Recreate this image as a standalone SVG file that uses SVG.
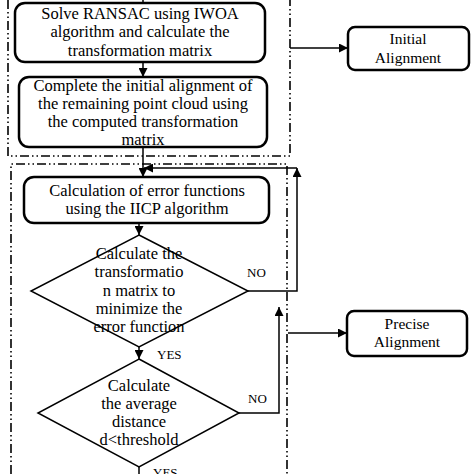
<svg xmlns="http://www.w3.org/2000/svg" width="474" height="474" viewBox="0 0 474 474">
<defs>
<marker id="ah" viewBox="0 0 10 10" refX="10" refY="5" markerWidth="9" markerHeight="9" markerUnits="userSpaceOnUse" orient="auto"><path d="M0,0 L10,5 L0,10 z" fill="#000"/></marker>
<style>
.box{fill:#fff;stroke:#000;stroke-width:2.5}
.dia{fill:#fff;stroke:#000;stroke-width:1.5}
.ln{fill:none;stroke:#000;stroke-width:1.5}
.grp{fill:none;stroke:#000;stroke-width:1.6;stroke-dasharray:9 3 1.5 3 1.5 3}
text{font-family:"Liberation Serif","Times New Roman",serif;font-size:16.5px;fill:#000;text-anchor:middle}
.sm{font-size:13px;text-anchor:start}
.al{font-size:15.5px}
</style>
</defs>
<rect width="474" height="474" fill="#fff"/>
<g id="groups">
<path class="grp" d="M8,0 V156 H290 V0"/>
<path class="grp" d="M11,474 V164 H287 V474"/>
</g>
<g id="connectors">
<line class="ln" x1="143" y1="0" x2="143" y2="4"/>
<line class="ln" x1="143" y1="62" x2="143" y2="77" marker-end="url(#ah)"/>
<line class="ln" x1="143" y1="147" x2="143" y2="177" marker-end="url(#ah)"/>
<line class="ln" x1="139" y1="223" x2="139" y2="235" marker-end="url(#ah)"/>
<path class="ln" d="M248,291 H297 V168" marker-end="url(#ah)"/>
<line class="ln" x1="297" y1="168" x2="144" y2="168" marker-end="url(#ah)"/>
<line class="ln" x1="139" y1="347" x2="139" y2="359" marker-end="url(#ah)"/>
<path class="ln" d="M239,413 H279 V307" marker-end="url(#ah)"/>
<line class="ln" x1="139" y1="467" x2="139" y2="474"/>
<line class="ln" x1="290" y1="48" x2="348" y2="48" marker-end="url(#ah)"/>
<line class="ln" x1="288" y1="333" x2="347" y2="333" marker-end="url(#ah)"/>
<text class="sm" x="247" y="277">NO</text>
<text class="sm" x="248" y="403">NO</text>
<text class="sm" x="157" y="359">YES</text>
<text class="sm" x="153" y="477">YES</text>
</g>
<g id="n1">
<rect class="box" x="15" y="3" width="250" height="59" rx="10"/>
<text x="140" y="19">Solve RANSAC using IWOA</text>
<text x="140" y="37">algorithm and calculate the</text>
<text x="140" y="56">transformation matrix</text>
</g>
<g id="n2">
<rect class="box" x="19" y="77" width="248" height="70" rx="10"/>
<text x="143" y="91">Complete the initial alignment of</text>
<text x="143" y="109">the remaining point cloud using</text>
<text x="143" y="127">the computed transformation</text>
<text x="143" y="145">matrix</text>
</g>
<g id="n3">
<rect class="box" x="24" y="177" width="245" height="46" rx="10"/>
<text x="147" y="196">Calculation of error functions</text>
<text x="147" y="214">using the IICP algorithm</text>
</g>
<g id="n4">
<polygon class="dia" points="139,235 248,291 139,347 31,291"/>
<text x="139" y="259">Calculate the</text>
<text x="139" y="277">transformatio</text>
<text x="139" y="296">n matrix to</text>
<text x="139" y="314">minimize the</text>
<text x="139" y="332">error function</text>
</g>
<g id="n5">
<polygon class="dia" points="139,359 239,413 139,467 38,413"/>
<text x="139" y="391">Calculate</text>
<text x="139" y="409">the average</text>
<text x="139" y="427">distance</text>
<text x="139" y="445">d&lt;threshold</text>
</g>
<g id="n6">
<rect class="box" x="348" y="27" width="121" height="43" rx="7"/>
<text class="al" x="408" y="44">Initial</text>
<text class="al" x="408" y="63">Alignment</text>
</g>
<g id="n7">
<rect class="box" x="347" y="311" width="120" height="45" rx="7"/>
<text class="al" x="407" y="329">Precise</text>
<text class="al" x="407" y="347">Alignment</text>
</g>
</svg>
